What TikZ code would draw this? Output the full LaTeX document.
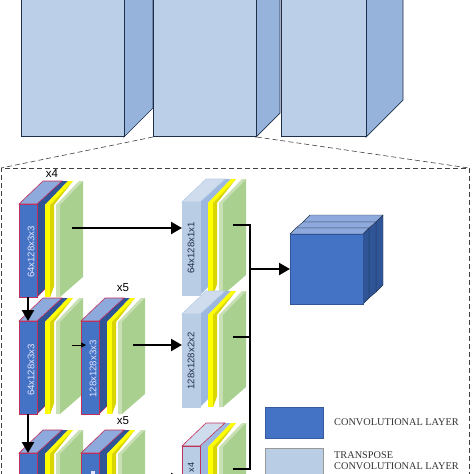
\documentclass[tikz,border=0pt]{standalone}
\usepackage{fontspec}
\setmainfont{Liberation Serif}
\setsansfont{Liberation Sans}
\usetikzlibrary{arrows.meta}
\definecolor{bigfront}{HTML}{BBCFE8}
\definecolor{bigside}{HTML}{95B3DB}
\definecolor{edgeblue}{HTML}{1F2F4A}
\definecolor{convfront}{HTML}{4472C4}
\definecolor{convtop}{HTML}{8EA9DB}
\definecolor{convside}{HTML}{2F5597}
\definecolor{redline}{HTML}{C0305A}
\definecolor{tfront}{HTML}{B9CDE5}
\definecolor{ttop}{HTML}{CFDCEE}
\definecolor{tside}{HTML}{9DB8DE}
\definecolor{yel}{HTML}{FFFF00}
\definecolor{yeld}{HTML}{D9D500}
\definecolor{grn}{HTML}{A9D08E}
\definecolor{grnl}{HTML}{C9E0B5}
\tikzset{x=1pt,y=-1pt,
  bigface/.style={draw=edgeblue,line width=0.7pt,fill=bigfront},
  bigsidef/.style={draw=edgeblue,line width=0.7pt,fill=bigside},
  dash box/.style={draw=black!75,line width=0.6pt,dash pattern=on 5pt off 3pt},
  thick arrow/.style={draw=black,line width=2.3pt,-{Triangle[length=11pt,width=12pt]}},
  thick line/.style={draw=black,line width=2.3pt},
  thin arrow/.style={draw=black,line width=0.7pt,-{Triangle[length=5pt,width=5pt]}},
  layer label/.style={rotate=90,font=\sffamily\fontsize{9.6}{10}\selectfont},
  legend text/.style={font=\fontsize{10.3}{11.5}\selectfont,text=black!80,anchor=west,align=left,inner sep=0pt},
  x label/.style={font=\sffamily\fontsize{11.5}{12}\selectfont,inner sep=0pt}}
% #1 x of front left, #2 y of front top, #3 y of front bottom, #4 front, #5 top, #6 side, #7 outline
\newcommand{\layerstack}[7]{%
  \begin{scope}[shift={(#1,0)}]
    % block
    \fill[#6] (18,#2) -- (43,#2-23) -- (49,#2-23) -- (26,#2+1) -- (26,#3-8) -- (18,#3) -- cycle;
    \draw[#7,line width=0.6pt] (18,#3) -- (26,#3-8);
    \path[fill=#5,draw=#7,line width=0.6pt] (0,#2) -- (24,#2-23) -- (43,#2-23) -- (18,#2) -- cycle;
    \path[fill=#4,draw=#7,line width=0.6pt] (0,#2) rectangle (18,#3);
    % yellow sheet
    \fill[yel] (26,#2+1) -- (49,#2-23) -- (54,#2-23) -- (31,#2+1) -- cycle;
    \fill[yeld] (31,#2+1) -- (54,#2-23) -- (35,#2+1) -- (35,#3-11) -- (31,#3) -- cycle;
    \fill[yel] (26,#2+1) rectangle (31,#3);
    \fill[yeld] (31,#2+1) rectangle (35,#3-11);
    \fill[yeld] (31,#3-11) -- (35,#3-11) -- (31,#3) -- cycle;
    % green sheet
    \fill[grnl] (37,#2+1) -- (60,#2-23) -- (64,#2-23) -- (41,#2+1) -- (41,#3) -- (37,#3) -- cycle;
    \fill[grn] (41,#2+1) -- (64,#2-23) -- (64,#3-20) -- (41,#3) -- cycle;
  \end{scope}}
\begin{document}
\begin{tikzpicture}
\useasboundingbox (0,0) rectangle (474,474);
\begin{scope}
\clip (0,0) rectangle (474,474);
% large blocks
\path[bigsidef] (124,-5) -- (153,-5) -- (153,108) -- (124,137) -- cycle;
\node[bigface,minimum width=103pt,minimum height=147pt,inner sep=0pt,anchor=south west] (big1) at (21,137) {};
\path[bigsidef] (256,-5) -- (280,-5) -- (280,113) -- (256,137) -- cycle;
\node[bigface,minimum width=103pt,minimum height=147pt,inner sep=0pt,anchor=south west] (big2) at (153,137) {};
\path[bigsidef] (366,-5) -- (403,-5) -- (403,100) -- (366,137) -- cycle;
\node[bigface,minimum width=85pt,minimum height=147pt,inner sep=0pt,anchor=south west] (big3) at (281,137) {};
% zoom frame
\coordinate (fl) at (1,168);
\coordinate (fr) at (469,168);
\draw[dash box] (big2.south west) -- (fl);
\draw[dash box] (big2.south east) -- (fr);
\draw[dash box] (1,500) -- (fl) -- (fr) -- (469,500);
% stacks
\layerstack{19}{204}{297}{convfront}{convtop}{convside}{redline}
\layerstack{19}{321}{414}{convfront}{convtop}{convside}{redline}
\layerstack{81}{321}{414}{convfront}{convtop}{convside}{redline}
\layerstack{19}{453}{546}{convfront}{convtop}{convside}{redline}
\layerstack{81}{453}{546}{convfront}{convtop}{convside}{redline}
\layerstack{182}{202}{295}{tfront}{ttop}{tside}{tfront}
\layerstack{182}{314}{407}{tfront}{ttop}{tside}{tfront}
\layerstack{182}{446}{539}{tfront}{ttop}{tside}{redline}
% stack anchors
\coordinate (s1) at (72,228);
\coordinate (t1) at (182,228);
\coordinate (d1a) at (28,297);
\coordinate (d1b) at (28,321);
\coordinate (d2a) at (28,414);
\coordinate (d2b) at (28,453);
\coordinate (s2) at (72,345);
\coordinate (s2b) at (86,345);
\coordinate (s3) at (133,345);
\coordinate (t2) at (182,345);
\coordinate (s4) at (72,477);
\coordinate (s4b) at (86,477);
\coordinate (s5) at (133,479);
\coordinate (t3) at (182,479);
\coordinate (c1) at (233,225);
\coordinate (c1v) at (250,225);
\coordinate (c2) at (233,337);
\coordinate (c2v) at (250,337);
\coordinate (c3) at (233,469);
\coordinate (c3v) at (250,469);
\coordinate (cm) at (250,269);
\coordinate (out) at (290,269);
% labels
\node[layer label,text=white!90!blue] at (31,252) {64x128x3x3};
\node[layer label,text=white!90!blue] at (31,370) {64x128x3x3};
\node[layer label,text=white!90!blue] at (93,369) {128x128x3x3};
\fill[white!90!blue] (91,471) rectangle (95,474);
\node[layer label,text=edgeblue] at (191,248) {64x128x1x1};
\node[layer label,text=edgeblue] at (191,361) {128x128x2x2};
\node[layer label,text=edgeblue,inner sep=0pt,font=\sffamily\fontsize{9}{10}\selectfont] at (191,467.5) {x4};
\node[x label] at (52,174) {x4};
\node[x label] at (123,288) {x5};
\node[x label] at (123,421) {x5};
% arrows
\draw[thick arrow] (s1) -- (t1);
\draw[thick arrow] (d1a) -- (d1b);
\draw[thick arrow] (d2a) -- (d2b);
\draw[thin arrow] (s2) -- (s2b);
\draw[thin arrow] (s4) -- (s4b);
\draw[thick arrow] (s3) -- (t2);
\draw[thick arrow] (s5) -- (t3);
\draw[thick line] (c1) -- (c1v) -- (c3v) -- (c3);
\draw[thick line] (c2) -- (c2v);
\draw[thick arrow] (cm) -- (out);
% output cube
\path[fill=convside,draw=edgeblue] (376,222) -- (383,215) -- (383,285) -- (376,292) -- cycle;
\path[fill=convtop,draw=edgeblue] (303,222) -- (310,215) -- (383,215) -- (376,222) -- cycle;
\path[fill=convside,draw=edgeblue] (369,228) -- (376,222) -- (376,292) -- (369,298) -- cycle;
\path[fill=convtop,draw=edgeblue] (296,228) -- (303,222) -- (376,222) -- (369,228) -- cycle;
\path[fill=convside,draw=edgeblue] (363,234) -- (369,228) -- (369,298) -- (363,304) -- cycle;
\path[fill=convtop,draw=edgeblue] (290,234) -- (296,228) -- (369,228) -- (363,234) -- cycle;
\node[fill=convfront,draw=convside,line width=0.6pt,minimum width=73pt,minimum height=70pt,inner sep=0pt,anchor=north west] (cube) at (290,234) {};
% legend
\node[fill=convfront,draw=convfront!80!black,line width=0.5pt,minimum width=58pt,minimum height=31pt,inner sep=0pt,anchor=north west] (lg1) at (265,407) {};
\node[fill=tfront,draw=black!40,line width=0.5pt,minimum width=58pt,minimum height=40pt,inner sep=0pt,anchor=north west] (lg2) at (265,448) {};
\node[legend text] (lt1) at (334,422) {CONVOLUTIONAL LAYER};
\node[legend text,anchor=north west] (lt2) at (334,451) {TRANSPOSE\\CONVOLUTIONAL LAYER};
\end{scope}
\end{tikzpicture}
\end{document}
